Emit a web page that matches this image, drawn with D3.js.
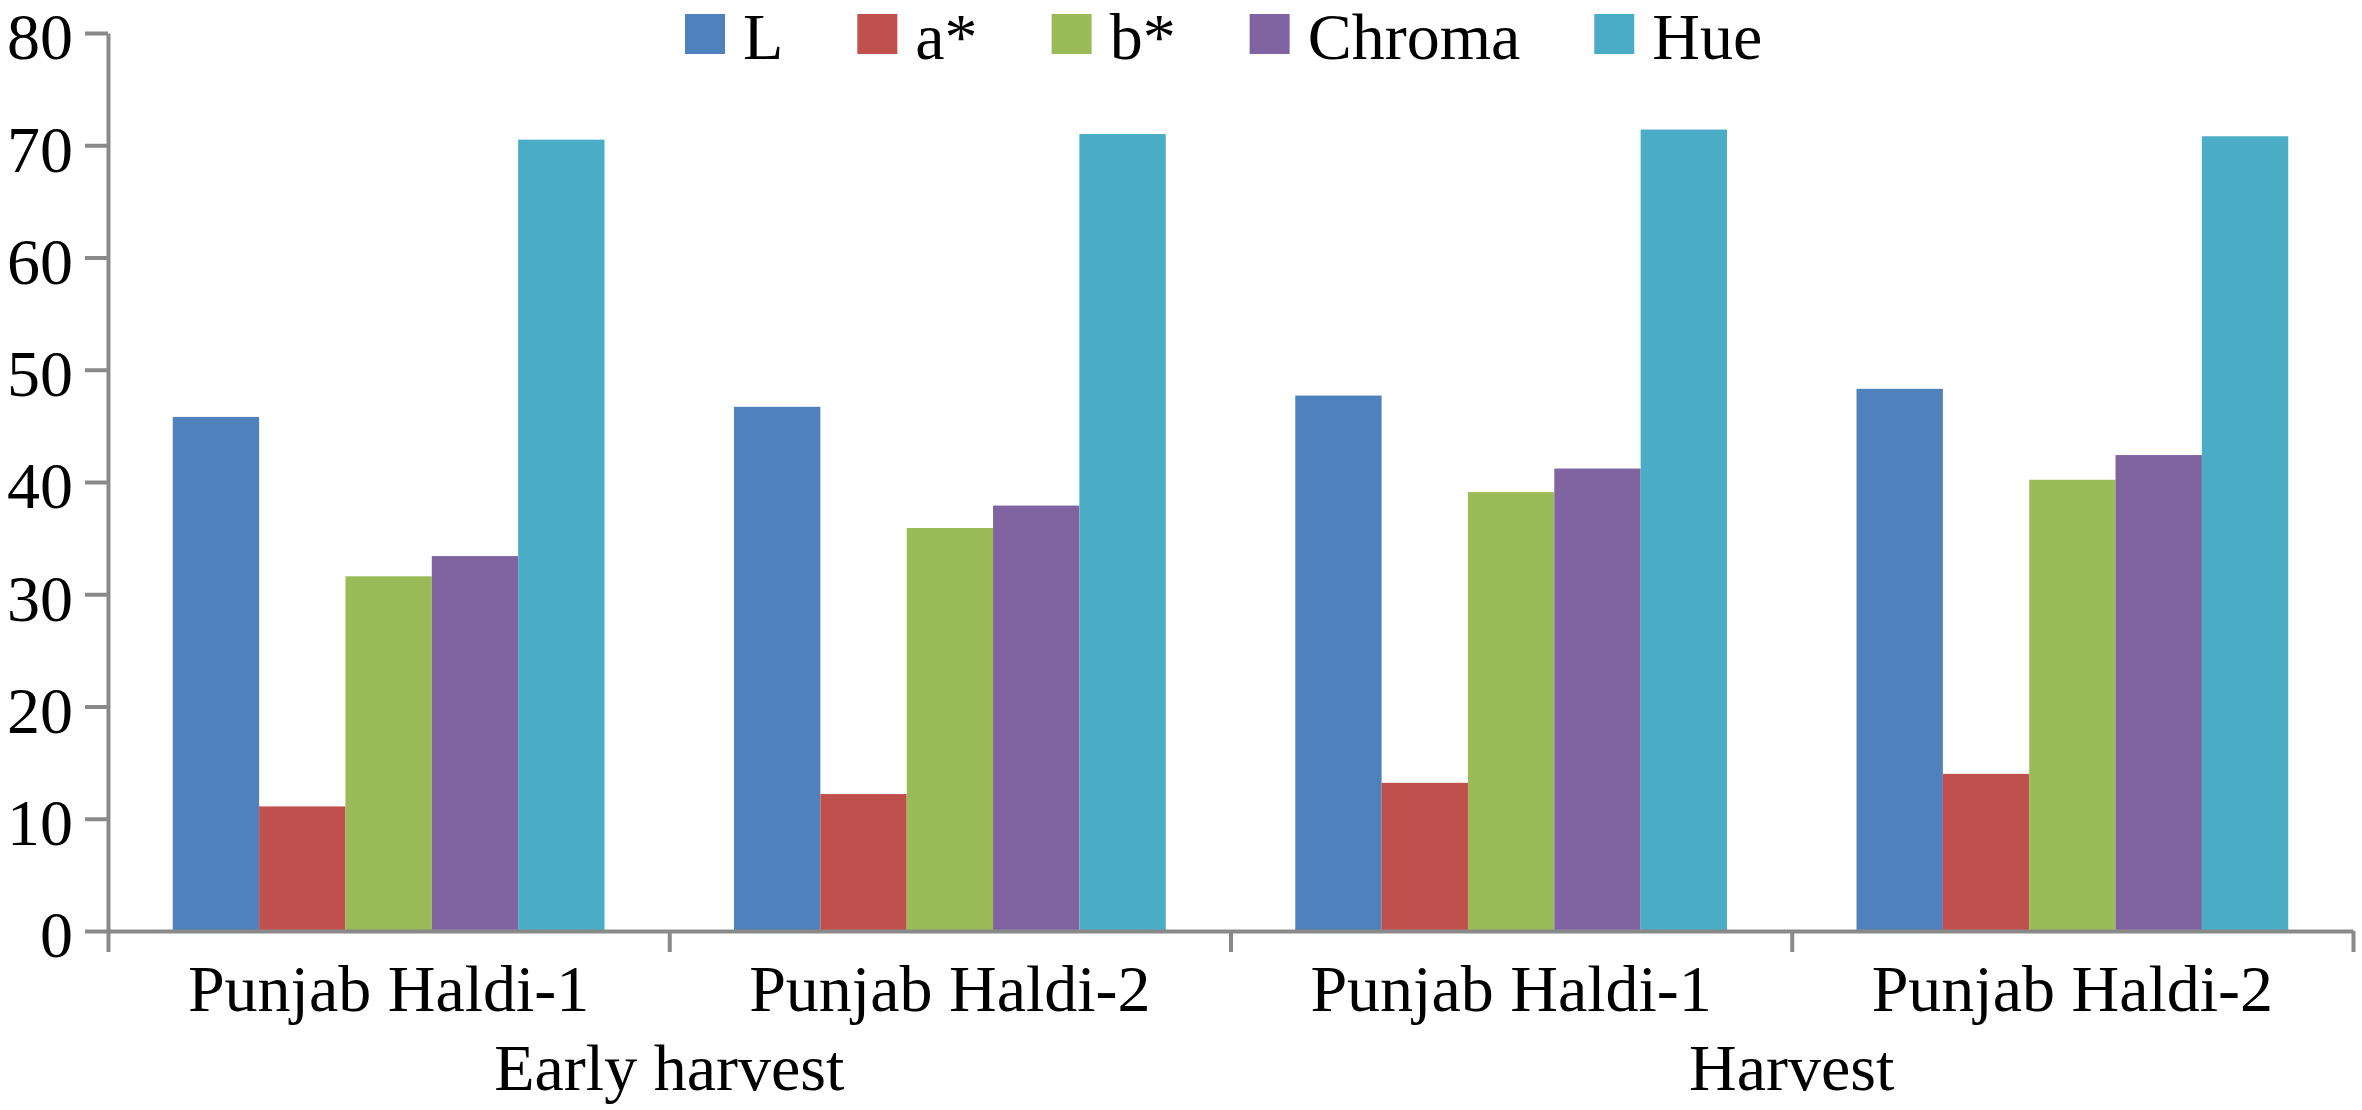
<!DOCTYPE html>
<html>
<head>
<meta charset="utf-8">
<script src="https://cdn.jsdelivr.net/npm/d3@7"></script>
<style>
  body { margin: 0; background: #fff; }
  text { font-family: "Liberation Serif", "Times New Roman", serif; fill: #000; }
</style>
</head>
<body>
<div id="chart"></div>
<script>
// Data
var categories = ["Punjab Haldi-1", "Punjab Haldi-2", "Punjab Haldi-1", "Punjab Haldi-2"];
var harvestGroups = ["Early harvest", "Harvest"];
var seriesNames = ["L", "a*", "b*", "Chroma", "Hue"];
var seriesColors = ["#4F81BD", "#C0504D", "#9BBB59", "#8064A2", "#4BACC6"];

var valuesL = [45.8, 46.7, 47.7, 48.3];
var valuesA = [11.1, 12.2, 13.2, 14.0];
var valuesB = [31.6, 35.9, 39.1, 40.2];
var valuesChroma = [33.4, 37.9, 41.2, 42.4];
var valuesHue = [70.5, 71.0, 71.4, 70.8];

var yTicks = [0, 10, 20, 30, 40, 50, 60, 70, 80];

var allSeries = [valuesL, valuesA, valuesB, valuesChroma, valuesHue];

// Set up chart area
var svgWidth = 2362;
var svgHeight = 1110;

var margin = { top: 33, right: 9, bottom: 179, left: 108 };
var width = svgWidth - margin.left - margin.right;
var height = svgHeight - margin.top - margin.bottom;

var axisColor = "#898989";
var fontSize = 66;

var svg = d3.select("#chart")
  .append("svg")
  .attr("width", svgWidth)
  .attr("height", svgHeight);

var chartGroup = svg.append("g")
  .attr("transform", `translate(${margin.left}, ${margin.top})`);

// Scales
var yScale = d3.scaleLinear().domain([0, 80]).range([height, 0]);

var x0 = d3.scaleBand()
  .domain(d3.range(categories.length))
  .range([0, width])
  .paddingInner(0)
  .paddingOuter(0);

// Excel-like gap width of 150%: band = 6.5 bar widths
var barW = x0.bandwidth() / 6.5;
var x1 = d3.scaleBand()
  .domain(seriesNames)
  .range([barW * 0.75, barW * 5.75]);

var color = d3.scaleOrdinal().domain(seriesNames).range(seriesColors);

// Bars
var rows = categories.map(function (c, i) {
  return seriesNames.map(function (s, j) {
    return { cat: i, series: s, value: allSeries[j][i] };
  });
});

chartGroup.selectAll("g.cat")
  .data(rows)
  .enter()
  .append("g")
  .attr("class", "cat")
  .attr("transform", (d, i) => `translate(${x0(i)}, 0)`)
  .selectAll("rect")
  .data(d => d)
  .enter()
  .append("rect")
  .attr("x", d => x1(d.series))
  .attr("y", d => yScale(d.value))
  .attr("width", x1.bandwidth())
  .attr("height", d => height - yScale(d.value))
  .attr("fill", d => color(d.series));

// Y axis
var leftAxis = d3.axisLeft(yScale)
  .tickValues(yTicks)
  .tickSize(23)
  .tickSizeOuter(0)
  .tickPadding(12);

var yAxisG = chartGroup.append("g").call(leftAxis);
yAxisG.select(".domain").attr("stroke", axisColor).attr("stroke-width", 4);
yAxisG.selectAll(".tick line").attr("stroke", axisColor).attr("stroke-width", 4);
yAxisG.selectAll(".tick text")
  .attr("font-size", fontSize)
  .attr("font-family", "Liberation Serif")
  .attr("dy", "0.39em")
  .attr("fill", "#000");

// X axis: ticks at category boundaries
var xEdge = d3.scaleLinear().domain([0, categories.length]).range([0, width]);
var bottomAxis = d3.axisBottom(xEdge)
  .tickValues(d3.range(categories.length + 1))
  .tickSize(21)
  .tickSizeOuter(0)
  .tickFormat("");

var xAxisG = chartGroup.append("g")
  .attr("transform", `translate(0, ${height})`)
  .call(bottomAxis);
xAxisG.select(".domain").attr("stroke", axisColor).attr("stroke-width", 4);
xAxisG.selectAll(".tick line").attr("stroke", axisColor).attr("stroke-width", 4);

// Category labels
chartGroup.selectAll("text.catLabel")
  .data(categories)
  .enter()
  .append("text")
  .attr("class", "catLabel")
  .attr("x", (d, i) => x0(i) + x0.bandwidth() / 2)
  .attr("y", height + 80)
  .attr("text-anchor", "middle")
  .attr("font-size", fontSize)
  .text(d => d);

// Harvest group labels
chartGroup.selectAll("text.groupLabel")
  .data(harvestGroups)
  .enter()
  .append("text")
  .attr("class", "groupLabel")
  .attr("x", (d, i) => xEdge(i * 2 + 1))
  .attr("y", height + 159)
  .attr("text-anchor", "middle")
  .attr("font-size", fontSize)
  .text(d => d);

// Legend
var legend = svg.append("g").attr("transform", "translate(685, 0)");
var cursor = 0;
seriesNames.forEach(function (s) {
  var item = legend.append("g").attr("transform", `translate(${cursor}, 0)`);
  item.append("rect")
    .attr("x", 0)
    .attr("y", 14)
    .attr("width", 40)
    .attr("height", 40)
    .attr("fill", color(s));
  var t = item.append("text")
    .attr("x", 58)
    .attr("y", 59)
    .attr("font-size", fontSize)
    .text(s);
  cursor += 58 + t.node().getComputedTextLength() + 74;
});
</script>
</body>
</html>
